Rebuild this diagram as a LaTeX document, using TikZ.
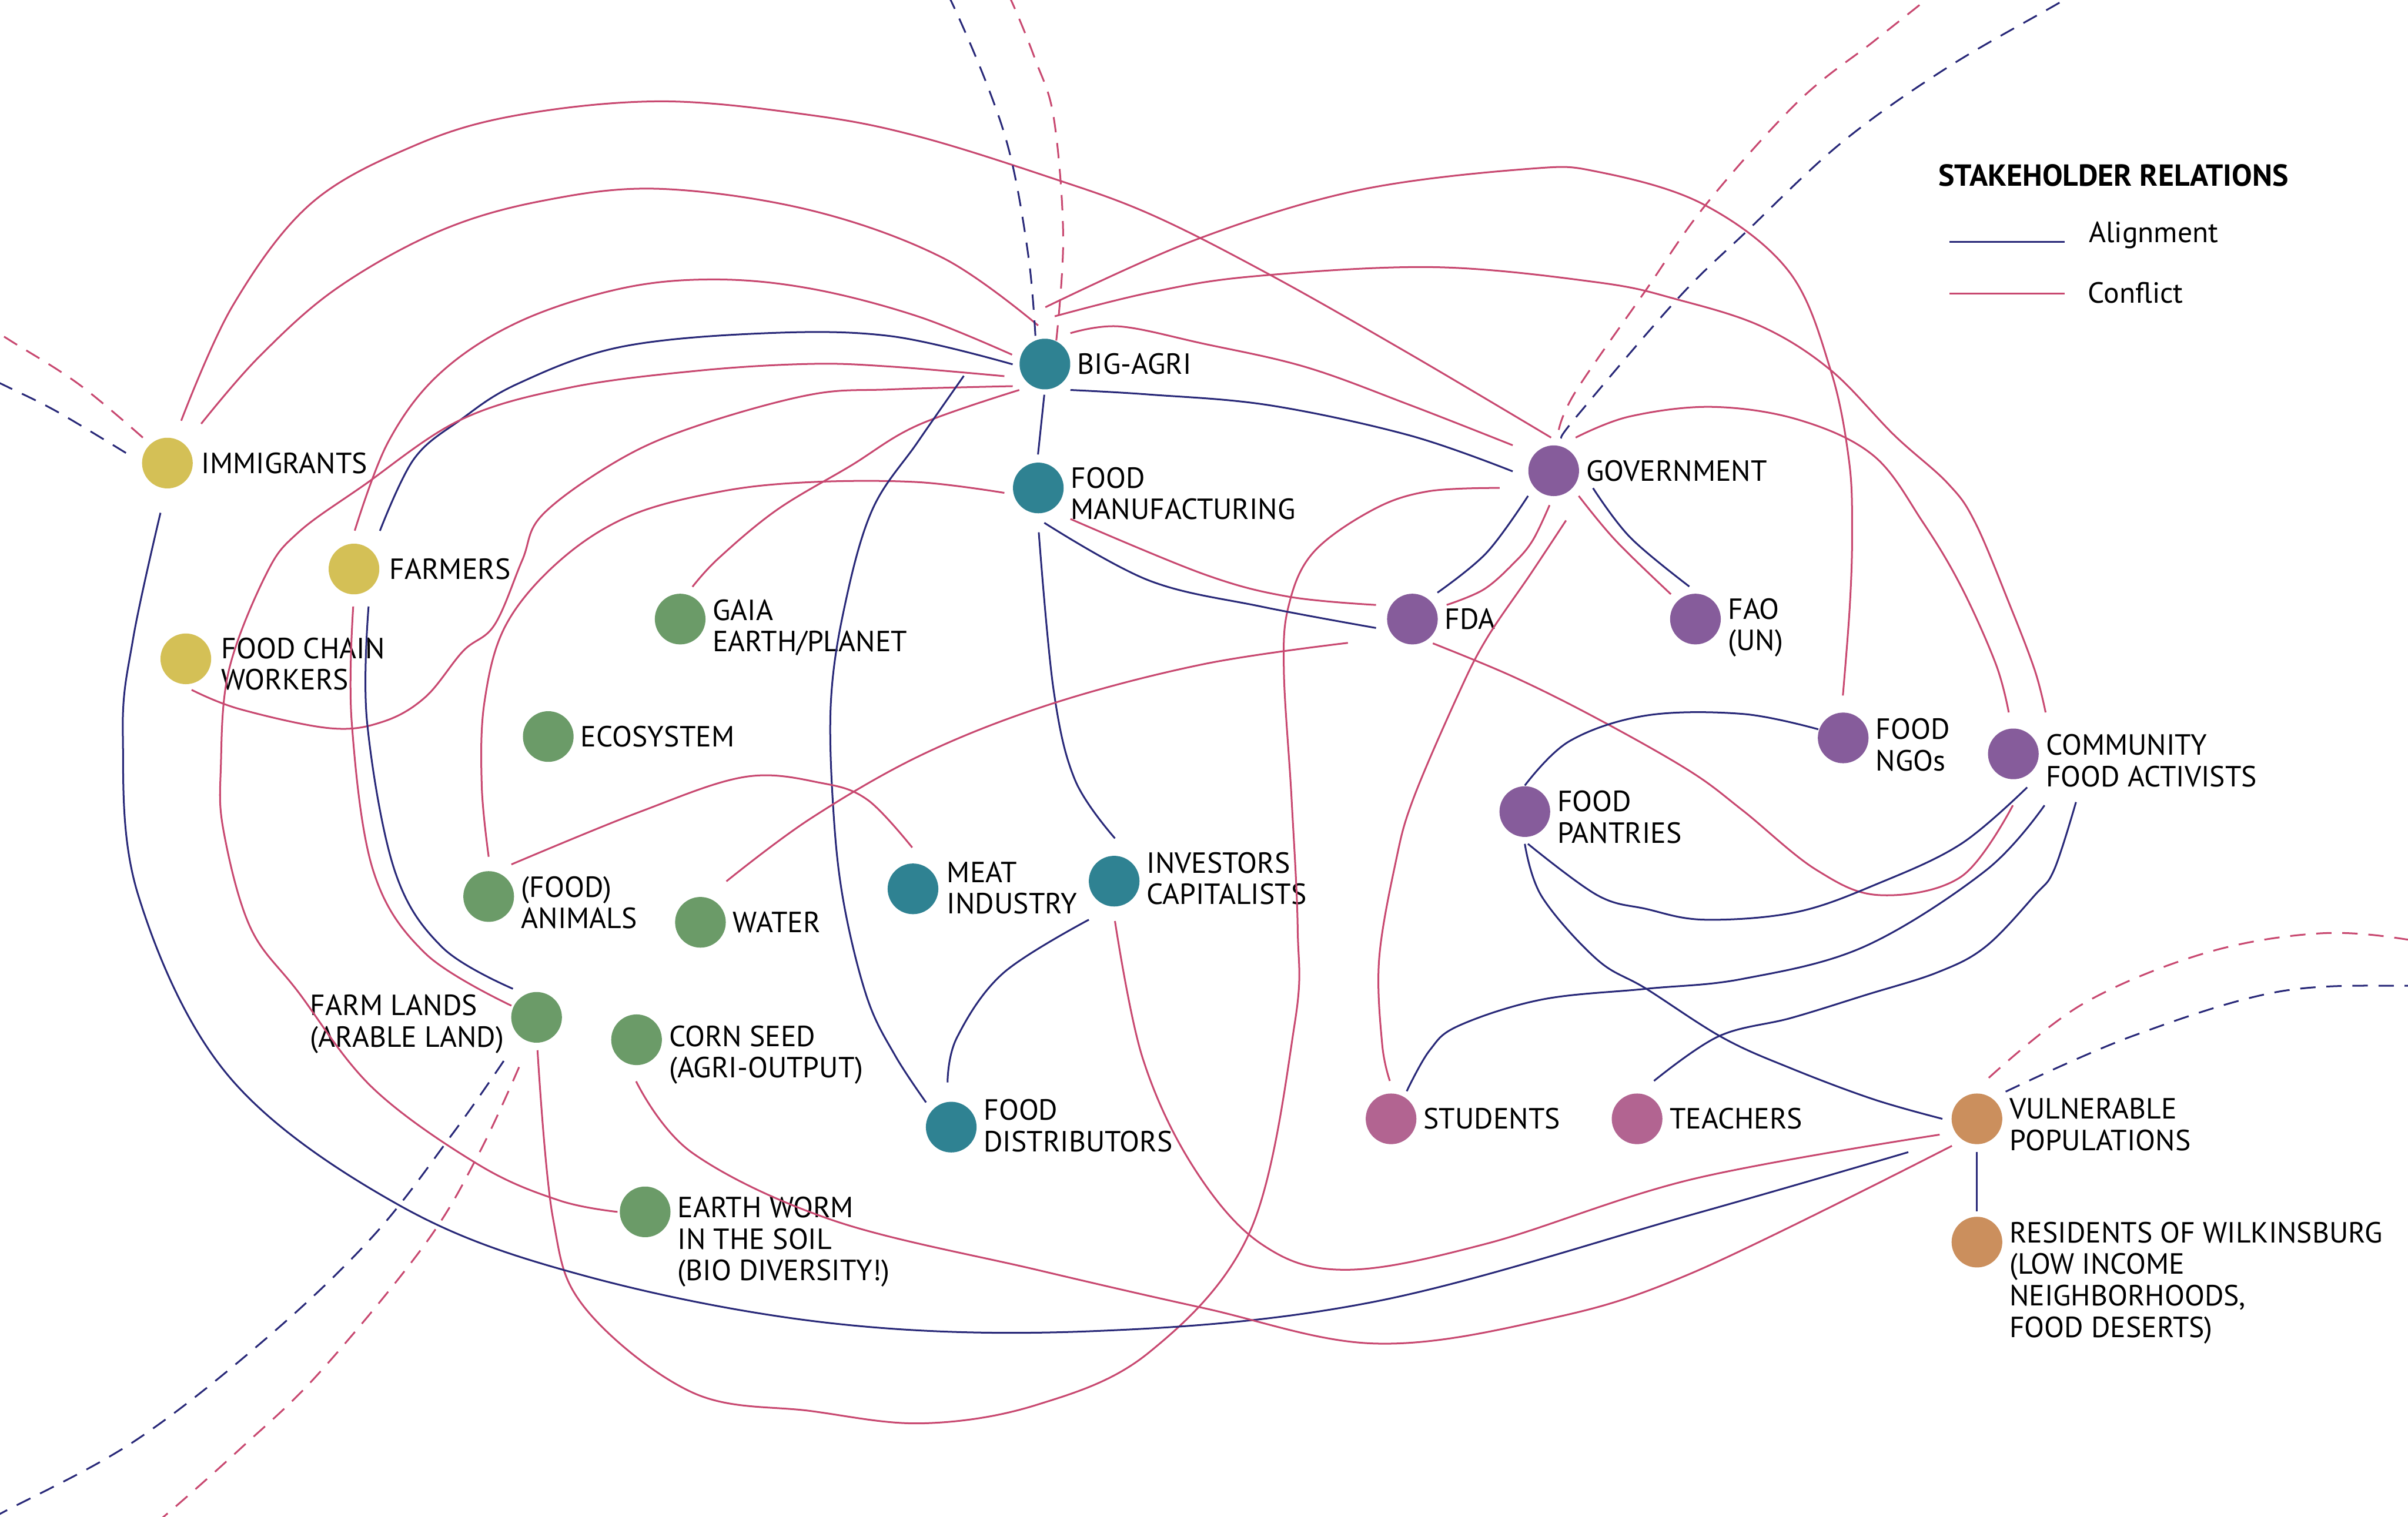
\documentclass[tikz,border=0pt]{standalone}
\usepackage{fontspec}
\setmainfont{PT Sans}
\usetikzlibrary{calc}
\definecolor{lblue}{RGB}{40,40,120}
\definecolor{lpink}{RGB}{200,72,112}
\definecolor{cyellow}{RGB}{212,192,86}
\definecolor{cteal}{RGB}{47,130,146}
\definecolor{cpurple}{RGB}{134,92,155}
\definecolor{cgreen}{RGB}{107,155,104}
\definecolor{cmauve}{RGB}{178,100,145}
\definecolor{ctan}{RGB}{203,143,93}
\begin{document}
\begin{tikzpicture}[x=1pt,y=-1pt,
  dot/.style={circle,minimum size=33pt,inner sep=0pt,draw=none},
  lbl/.style={inner sep=0pt,align=left,font=\fontsize{19}{20.5}\selectfont},
  al/.style={draw=lblue,line width=1.15pt},
  cf/.style={draw=lpink,line width=1.15pt},
  dsh/.style={dash pattern=on 10pt off 7pt},
  sm/.style={smooth,tension=0.6}]
\useasboundingbox (0,0) rectangle (1568,988);
\clip (0,0) rectangle (1568,988);
\fill[white] (0,0) rectangle (1568,988);

% ---------- nodes ----------
\node[dot,fill=cteal] (big) at (680.4,237.1) {};
\node[dot,fill=cteal] (mfg) at (676.1,317.8) {};
\node[dot,fill=cpurple] (gov) at (1011.7,306.6) {};
\node[dot,fill=cpurple] (fda) at (919.7,403.2) {};
\node[dot,fill=cpurple] (fao) at (1104,403.2) {};
\node[dot,fill=cpurple] (ngo) at (1200.2,480.6) {};
\node[dot,fill=cpurple] (com) at (1311,491) {};
\node[dot,fill=cpurple] (pan) at (992.9,528.6) {};
\node[dot,fill=cmauve] (stu) at (905.8,728.7) {};
\node[dot,fill=cmauve] (tea) at (1066,728.7) {};
\node[dot,fill=ctan] (vul) at (1287.3,728.7) {};
\node[dot,fill=ctan] (res) at (1287.3,809) {};
\node[dot,fill=cyellow] (imm) at (109,301.6) {};
\node[dot,fill=cyellow] (far) at (230.5,370.6) {};
\node[dot,fill=cyellow] (fcw) at (121,429.1) {};
\node[dot,fill=cgreen] (gaia) at (442.9,403.2) {};
\node[dot,fill=cgreen] (eco) at (357,479.7) {};
\node[dot,fill=cgreen] (ani) at (318.2,583.9) {};
\node[dot,fill=cgreen] (wat) at (456.1,600.7) {};
\node[dot,fill=cgreen] (fl) at (349.4,662.6) {};
\node[dot,fill=cgreen] (corn) at (414.5,677.2) {};
\node[dot,fill=cgreen] (ew) at (420.1,789.3) {};
\node[dot,fill=cteal] (meat) at (594.5,578.9) {};
\node[dot,fill=cteal] (inv) at (725.5,573.9) {};
\node[dot,fill=cteal] (dist) at (619.4,734.1) {};

% ---------- labels ----------
\node[lbl,anchor=base west] (big-l) at ($(big)+(21,6.6)$) {BIG-AGRI};
\node[lbl,anchor=base west] (mfg-l) at ($(mfg)+(21,20.5)$) {FOOD\\MANUFACTURING};
\node[lbl,anchor=base west] (gov-l) at ($(gov)+(21,6.6)$) {GOVERNMENT};
\node[lbl,anchor=base west] (fda-l) at ($(fda)+(21,6.6)$) {FDA};
\node[lbl,anchor=base west] (fao-l) at ($(fao)+(21,20.5)$) {FAO\\(UN)};
\node[lbl,anchor=base west] (ngo-l) at ($(ngo)+(21,21.3)$) {FOOD\\NGOs};
\node[lbl,anchor=base west] (com-l) at ($(com)+(21,21.4)$) {COMMUNITY\\FOOD ACTIVISTS};
\node[lbl,anchor=base west] (pan-l) at ($(pan)+(21,20.5)$) {FOOD\\PANTRIES};
\node[lbl,anchor=base west] (stu-l) at ($(stu)+(21,6.6)$) {STUDENTS};
\node[lbl,anchor=base west] (tea-l) at ($(tea)+(21,6.6)$) {TEACHERS};
\node[lbl,anchor=base west] (vul-l) at ($(vul)+(21,20.5)$) {VULNERABLE\\POPULATIONS};
\node[lbl,anchor=base west] (res-l) at ($(res)+(21,61.9)$) {RESIDENTS OF WILKINSBURG\\(LOW INCOME\\NEIGHBORHOODS,\\FOOD DESERTS)};
\node[lbl,anchor=base west] (imm-l) at ($(imm)+(22,6.6)$) {IMMIGRANTS};
\node[lbl,anchor=base west] (far-l) at ($(far)+(23,6.6)$) {FARMERS};
\node[lbl,anchor=base west] (fcw-l) at ($(fcw)+(23,20.2)$) {FOOD CHAIN\\WORKERS};
\node[lbl,anchor=base west] (gaia-l) at ($(gaia)+(21,21.3)$) {GAIA\\EARTH/PLANET};
\node[lbl,anchor=base west] (eco-l) at ($(eco)+(21,6.6)$) {ECOSYSTEM};
\node[lbl,anchor=base west] (ani-l) at ($(ani)+(21,20.9)$) {(FOOD)\\ANIMALS};
\node[lbl,anchor=base west] (wat-l) at ($(wat)+(21,6.6)$) {WATER};
\node[lbl,anchor=base east] (fl-l) at ($(fl)+(-21,19.3)$) {FARM LANDS\\(ARABLE LAND)};
\node[lbl,anchor=base west] (corn-l) at ($(corn)+(21,24.7)$) {CORN SEED\\(AGRI-OUTPUT)};
\node[lbl,anchor=base west] (ew-l) at ($(ew)+(21,44.7)$) {EARTH WORM\\IN THE SOIL\\(BIO DIVERSITY!)};
\node[lbl,anchor=base west] (meat-l) at ($(meat)+(22,16.3)$) {MEAT\\INDUSTRY};
\node[lbl,anchor=base west] (inv-l) at ($(inv)+(21,15.1)$) {INVESTORS\\CAPITALISTS};
\node[lbl,anchor=base west] (dist-l) at ($(dist)+(21,15.9)$) {FOOD\\DISTRIBUTORS};

% ---------- legend ----------
\node[lbl,anchor=base west,font=\bfseries\fontsize{19.8}{21}\selectfont] (lg-title) at (1262,121.3) {STAKEHOLDER RELATIONS};
\coordinate (lga0) at (1269.4,157.5);
\coordinate (lga1) at (1344.6,157.5);
\coordinate (lgc0) at (1269.4,191.2);
\coordinate (lgc1) at (1344.6,191.2);
\draw[al,line width=0.9pt] (lga0) -- (lga1);
\draw[cf,line width=0.9pt] (lgc0) -- (lgc1);
\node[lbl,anchor=base west] (lg-al) at (1360,157.8) {Alignment};
\node[lbl,anchor=base west] (lg-cf) at (1359.5,197.2) {Conflict};

% ---------- connectors ----------
% immigrants - government (conflict)
\coordinate (a0) at ($(imm)+(9,-27.6)$);
\coordinate (a1) at ($(gov)+(-1.7,-21.6)$);
\draw[cf] plot[sm] coordinates {(a0) (151.6,199) (202,133) (269.5,95) (337,75) (431,66) (528,75) (597,88.6) (682,115) (749,139.5) (827,179) (917,230) (a1)};
% immigrants - big agri (conflict)
\coordinate (b0) at ($(imm)+(22,-25.6)$);
\coordinate (b1) at ($(big)+(-4.4,-25.1)$);
\draw[cf] plot[sm] coordinates {(b0) (168.5,232.6) (219,188) (286,150.6) (353.7,130.7) (430,123) (528,137) (614,168) (b1)};
% farmers - big agri (conflict)
\coordinate (c0) at ($(far)+(0.5,-25)$);
\coordinate (c1) at ($(big)+(-21.4,-6.1)$);
\draw[cf] plot[sm] coordinates {(c0) (252.7,288) (286,243.6) (337,210) (404,188) (465,182) (528,188) (597.5,206) (c1)};
% farmers - big agri (alignment)
\coordinate (d0) at ($(far)+(16.9,-24.9)$);
\coordinate (d1) at ($(big)+(-21,0.2)$);
\draw[al] plot[sm] coordinates {(d0) (269.5,299) (299.8,273.5) (337,250) (404,226) (499,217) (580.6,219) (d1)};
% earth worm - big agri (conflict)
\coordinate (e0) at ($(ew)+(-18,0)$);
\coordinate (e1) at ($(big)+(-26.4,7.9)$);
\draw[cf] plot[sm] coordinates {(e0) (364,781.8) (312,758.8) (242.6,708.5) (194,645.8) (163,604) (145.6,541.3) (143.8,499.4) (149,436.7) (173.3,374) (194,347) (236,316.7) (299.8,273.5) (370.7,252.5) (455,241.4) (528,237) (580.6,238.8) (e1)};
% food chain workers - big agri (conflict)
\coordinate (f0) at ($(fcw)+(3.8,20.2)$);
\coordinate (f1) at ($(big)+(-21,14.4)$);
\draw[cf] plot[sm] coordinates {(f0) (156,461.8) (215,474.3) (249.5,470) (277,454) (301.6,424) (322,407) (340,365) (353.5,335) (404,299) (455,277) (528,257) (580.6,253.6) (f1)};
% animals - food manufacturing (conflict)
\coordinate (g0) at ($(ani)+(0,-25.9)$);
\coordinate (g1) at ($(mfg)+(-22.1,3.2)$);
\draw[cf] plot[sm] coordinates {(g0) (313.7,512) (315.4,457.6) (329.3,407.3) (364,365.6) (410,336) (470,320) (528,314) (597.5,314) (g1)};
% gaia - big agri (conflict)
\coordinate (h0) at ($(gaia)+(8,-21)$);
\coordinate (h1) at ($(big)+(-16.7,16.9)$);
\draw[cf] plot[sm] coordinates {(h0) (468,363.5) (506,332) (553.7,303.5) (597.5,277) (h1)};
% big agri - food distributors (alignment)
\coordinate (i0) at ($(big)+(-52.8,7.7)$);
\coordinate (i1) at ($(dist)+(-16.4,-16.1)$);
\draw[al] plot[sm] coordinates {(i0) (597.5,288) (568,332) (550,394.8) (541,458) (543,533) (550,591.4) (565,651) (583,687.7) (i1)};
% big agri - food manufacturing (alignment)
\coordinate (j0) at ($(big)+(-0.4,20)$);
\coordinate (j1) at ($(mfg)+(-0.2,-21.8)$);
\draw[al] (j0) -- (j1);
% big agri - government (alignment)
\coordinate (k0) at ($(big)+(16.6,16.9)$);
\coordinate (k1) at ($(gov)+(-26.7,0.4)$);
\draw[al] plot[sm] coordinates {(k0) (749,257) (827,264) (917.6,283.5) (k1)};
% big agri - government (conflict)
\coordinate (l0) at ($(big)+(16.6,-20.1)$);
\coordinate (l1) at ($(gov)+(-26.7,-16.6)$);
\draw[cf] plot[sm] coordinates {(l0) (729,212.6) (783,223.7) (850,239) (917.6,263.6) (l1)};
% big agri - community food activists (conflict)
\coordinate (m0) at ($(big)+(6.4,-31.1)$);
\coordinate (m1) at ($(com)+(21,-27)$);
\draw[cf] plot[sm] coordinates {(m0) (749,190.5) (816,180) (934,174) (1041,184) (1092,195) (1147,212.6) (1192,241) (1233.5,283.5) (1268,314.5) (1286,340) (1309,394.8) (1325,436.7) (m1)};
% big agri - food ngos (conflict)
\coordinate (n0) at ($(big)+(0.3,-37)$);
\coordinate (n1) at ($(ngo)+(-0.2,-27.6)$);
\draw[cf] plot[sm] coordinates {(n0) (779,156) (884,124) (995,110) (1041,112) (1109,133) (1165,177) (1192,241) (1204,300) (1206,347) (1204.5,394.8) (n1)};
% government - community food activists (conflict)
\coordinate (o0) at ($(gov)+(14.3,-21.6)$);
\coordinate (o1) at ($(com)+(-3,-27)$);
\draw[cf] plot[sm] coordinates {(o0) (1061,271.3) (1115,265) (1171.5,273.5) (1220,296.8) (1252,340) (1277,382) (1299.6,432.5) (o1)};
% government dashed
\coordinate (p0) at ($(gov)+(3.3,-26.6)$);
\coordinate (p1) at (1285,-25);
\draw[cf,dsh] plot[sm] coordinates {(p0) (1026,255) (1071,190) (1111,133) (1171,66) (1220,27) (1254,0) (p1)};
\coordinate (q0) at ($(gov)+(5.3,-21.6)$);
\coordinate (q1) at (1385,-25);
\draw[al,dsh] plot[sm] coordinates {(q0) (1026,272) (1092,195) (1137,151) (1199,93) (1268,44) (1344,0) (q1)};
% farm lands - government (conflict)
\coordinate (r0) at ($(fl)+(0.6,21.4)$);
\coordinate (r1) at ($(gov)+(-35.2,11.2)$);
\draw[cf] plot[sm] coordinates {(r0) (360,793) (381,852) (451,907) (528,919) (601,927) (675,915) (748,881) (814,802) (843,667) (845,605) (841,520) (836,437) (839,395) (855,360) (894,332) (930,320) (r1)};
% government - fda
\coordinate (s0) at ($(gov)+(-16.7,16.4)$);
\coordinate (s1) at ($(fda)+(16.3,-17.2)$);
\draw[al] plot[sm] coordinates {(s0) (968,360) (s1)};
\coordinate (t0) at ($(gov)+(-2.7,22.4)$);
\coordinate (t1) at ($(fda)+(22.3,-9.2)$);
\draw[cf] plot[sm] coordinates {(t0) (998,352) (985.5,367) (966,384) (t1)};
% government - students (conflict)
\coordinate (u0) at ($(gov)+(8,32.4)$);
\coordinate (u1) at ($(stu)+(-0.8,-24.7)$);
\draw[cf] plot[sm] coordinates {(u0) (996.6,373.9) (968,416) (949,453.4) (920,521) (908.7,562) (898,625) (900,680) (u1)};
% government - fao
\coordinate (v0) at ($(gov)+(16.3,16.4)$);
\coordinate (v1) at ($(fao)+(-16,-16.2)$);
\draw[cf] plot[sm] coordinates {(v0) (1052,352) (v1)};
\coordinate (w0) at ($(gov)+(25.6,11.3)$);
\coordinate (w1) at ($(fao)+(-4,-21.2)$);
\draw[al] plot[sm] coordinates {(w0) (1061.5,350) (w1)};
% food manufacturing - fda
\coordinate (x0) at ($(mfg)+(3.9,22.7)$);
\coordinate (x1) at ($(fda)+(-23.7,5.8)$);
\draw[al] plot[sm] coordinates {(x0) (748,378) (821,395) (x1)};
\coordinate (y0) at ($(mfg)+(20.9,20.2)$);
\coordinate (y1) at ($(fda)+(-23.7,-9.2)$);
\draw[cf] plot[sm] coordinates {(y0) (784,374) (839,388.6) (y1)};
% food manufacturing - investors (alignment)
\coordinate (z0) at ($(mfg)+(0.3,28.9)$);
\coordinate (z1) at ($(inv)+(0.5,-27.9)$);
\draw[al] plot[sm] coordinates {(z0) (686,449) (700,508) (z1)};
% fda - water (conflict)
\coordinate (aa0) at ($(fda)+(-42,15.5)$);
\coordinate (aa1) at ($(wat)+(16.9,-26.7)$);
\draw[cf] plot[sm] coordinates {(aa0) (784,432.5) (686,458) (601.5,491) (528,533) (aa1)};
% fda - community food activists (conflict)
\coordinate (ab0) at ($(fda)+(13.3,15.8)$);
\coordinate (ab1) at ($(com)+(-0.3,33.5)$);
\draw[cf] plot[sm] coordinates {(ab0) (985.5,440.8) (1040,468) (1100,502) (1135,528) (1182.5,566.4) (1224,583) (1277,571) (ab1)};
% pantries - ngos (alignment)
\coordinate (ac0) at ($(pan)+(0,-17)$);
\coordinate (ac1) at ($(ngo)+(-16.2,-5.6)$);
\draw[al] plot[sm] coordinates {(ac0) (1022,482.7) (1072,466) (1135,465) (ac1)};
% pantries - community (alignment)
\coordinate (ad0) at ($(pan)+(2,21)$);
\coordinate (ad1) at ($(com)+(9,21.8)$);
\draw[al] plot[sm] coordinates {(ad0) (1040,583) (1072,592) (1110,599) (1170,594) (1224,575) (1277,549.6) (ad1)};
% pantries - vulnerable (alignment)
\coordinate (ae0) at ($(pan)+(0,21)$);
\coordinate (ae1) at ($(vul)+(-22.5,0)$);
\draw[al] plot[sm] coordinates {(ae0) (1004,584) (1040,625) (1072,644) (1122,676) (1166.7,696) (1220,716) (ae1)};
% community - students (alignment)
\coordinate (af0) at ($(com)+(20.3,33.5)$);
\coordinate (af1) at ($(stu)+(10.2,-18)$);
\draw[al] plot[sm] coordinates {(af0) (1293,567) (1214,616.5) (1135,637.5) (1072,644) (1004,651) (950,668) (931,684) (af1)};
% community - teachers (alignment)
\coordinate (ag0) at ($(com)+(40.8,31.4)$);
\coordinate (ag1) at ($(tea)+(11,-24.7)$);
\draw[al] plot[sm] coordinates {(ag0) (1337.6,566.4) (1325,583) (1293,616.5) (1261.6,633.3) (1215,648) (1166.3,663) (1119,675) (ag1)};
% vulnerable - residents (alignment)
\coordinate (ah0) at ($(vul)+(0,21.7)$);
\coordinate (ah1) at ($(res)+(0,-20)$);
\draw[al] (ah0) -- (ah1);
% vulnerable dashed
\coordinate (ai0) at ($(vul)+(7.7,-26.7)$);
\coordinate (ai1) at (1600,622);
\draw[cf,dsh] plot[sm] coordinates {(ai0) (1356,654) (1435,621) (1509,608) (1568,612) (ai1)};
\coordinate (aj0) at ($(vul)+(18.7,-17.7)$);
\coordinate (aj1) at (1600,644);
\draw[al,dsh] plot[sm] coordinates {(aj0) (1388,675) (1483,646) (1568,642) (aj1)};
% investors - vulnerable (conflict)
\coordinate (ak0) at ($(inv)+(0.5,26)$);
\coordinate (ak1) at ($(vul)+(-24.3,10.3)$);
\draw[cf] plot[sm] coordinates {(ak0) (744,689) (777,760) (821,810) (876,827) (968,810) (1102,768) (ak1)};
% immigrants - vulnerable (alignment)
\coordinate (al0) at ($(imm)+(-4.5,32.4)$);
\coordinate (al1) at ($(vul)+(-44.7,21.7)$);
\draw[al] plot[sm] coordinates {(al0) (86.7,415.8) (80,479) (90,583) (149,701) (260,785) (381,831) (543,862) (711,867) (894,848) (1102,791) (al1)};
% corn seed - vulnerable (conflict)
\coordinate (am0) at ($(corn)+(-0.3,27.1)$);
\coordinate (am1) at ($(vul)+(-16.3,17.6)$);
\draw[cf] plot[sm] coordinates {(am0) (451,751) (543,795) (675,827) (784,852) (894,875) (1004,860) (1102,829) (am1)};
% farmers - farm lands
\coordinate (an0) at ($(far)+(-0.5,24.4)$);
\coordinate (an1) at ($(fl)+(-16.4,-7.6)$);
\draw[cf] plot[sm] coordinates {(an0) (229,470) (243,567) (277,621) (an1)};
\coordinate (ao0) at ($(far)+(9.5,24.4)$);
\coordinate (ao1) at ($(fl)+(-15.4,-18.6)$);
\draw[al] plot[sm] coordinates {(ao0) (239,470) (257,567) (288,617) (ao1)};
% farm lands dashed
\coordinate (ap0) at ($(fl)+(-21.4,28.4)$);
\coordinate (ap1) at (-20,997);
\draw[al,dsh] plot[sm] coordinates {(ap0) (295,738) (243,805) (173,872) (87,939) (0,986) (ap1)};
\coordinate (aq0) at ($(fl)+(-11.4,32.4)$);
\coordinate (aq1) at (85,1003);
\draw[cf,dsh] plot[sm] coordinates {(aq0) (312,751) (277,810) (208,894) (156,944) (104,990) (aq1)};
% animals - meat industry (conflict)
\coordinate (ar0) at ($(ani)+(14.8,-20.9)$);
\coordinate (ar1) at ($(meat)+(-0.5,-26.9)$);
\draw[cf] plot[sm] coordinates {(ar0) (416,529) (485,506) (535,510) (565,521) (ar1)};
% investors - food distributors (alignment)
\coordinate (as0) at ($(inv)+(-16.5,25.1)$);
\coordinate (as1) at ($(dist)+(-2.4,-29.1)$);
\draw[al] plot[sm] coordinates {(as0) (653,634) (623,676) (as1)};
% immigrants dashed
\coordinate (at0) at ($(imm)+(-16,-16.6)$);
\coordinate (at1) at (-12,210);
\draw[cf,dsh] plot[sm] coordinates {(at0) (51,250) (7,222) (at1)};
\coordinate (au0) at ($(imm)+(-27,-6.6)$);
\coordinate (au1) at (-12,244);
\draw[al,dsh] plot[sm] coordinates {(au0) (37,268) (5,252) (au1)};
% big agri dashed
\coordinate (av0) at ($(big)+(-6.2,-18.4)$);
\coordinate (av1) at (608,-15);
\draw[al,dsh] plot[sm] coordinates {(av0) (670,169.5) (659,106) (644,58.5) (619,0) (av1)};
\coordinate (aw0) at ($(big)+(7.4,-15.3)$);
\coordinate (aw1) at (650,-15);
\draw[cf,dsh] plot[sm] coordinates {(aw0) (692.3,154) (686.2,77) (674,38.5) (659,1.5) (aw1)};
\end{tikzpicture}
\end{document}
